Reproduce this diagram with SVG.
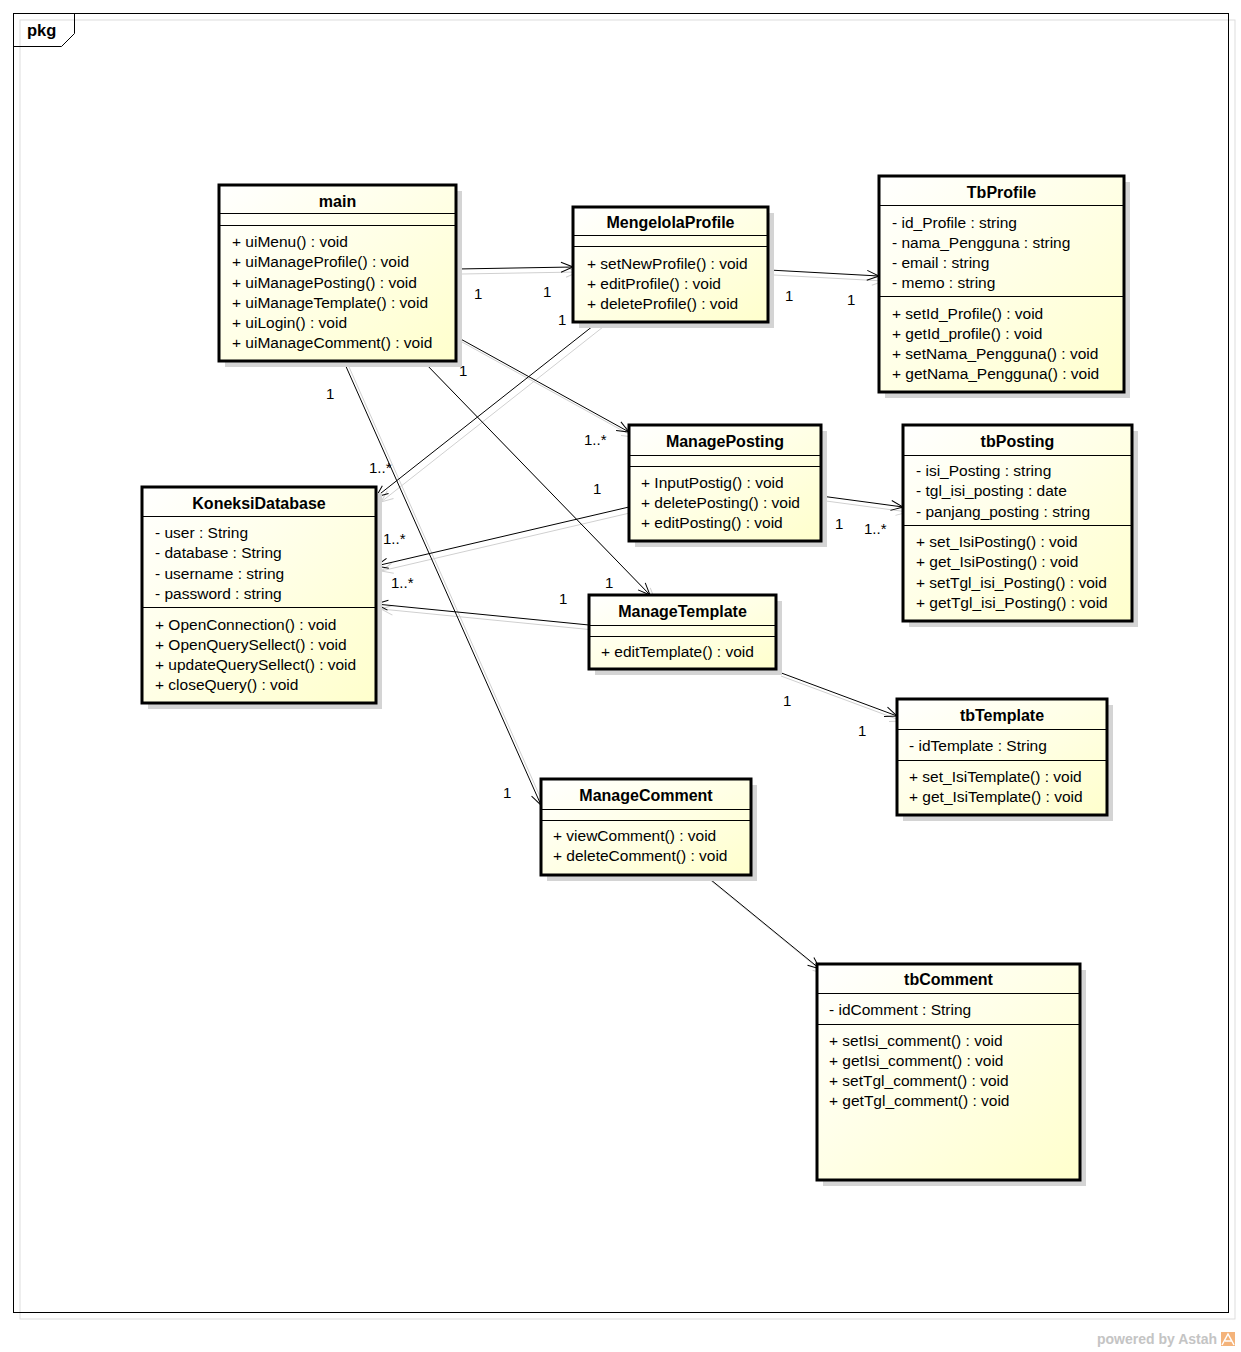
<svg xmlns="http://www.w3.org/2000/svg" width="1241" height="1352" viewBox="0 0 1241 1352">
<defs>
<linearGradient id="g" x1="0" y1="0" x2="1" y2="1">
<stop offset="0" stop-color="#FFFFFF"/>
<stop offset="1" stop-color="#FFFFCC"/>
</linearGradient>
<marker id="arr" markerWidth="14" markerHeight="12" refX="13" refY="6" orient="auto" markerUnits="userSpaceOnUse">
<path d="M1,1 L13,6 L1,11" fill="none" stroke="#000" stroke-width="1"/>
</marker>
<marker id="arrs" markerWidth="14" markerHeight="12" refX="13" refY="6" orient="auto" markerUnits="userSpaceOnUse">
<path d="M1,1 L13,6 L1,11" fill="none" stroke="#D0D0D0" stroke-width="1"/>
</marker>
</defs>
<style>
.box{fill:url(#g);stroke:#000;stroke-width:3}
.shd{fill:#D4D4D4;stroke:none}
.sep{stroke:#000;stroke-width:1}
.t{font-family:"Liberation Sans",Arial,sans-serif;font-size:15.5px;fill:#000}
.b{font-family:"Liberation Sans",Arial,sans-serif;font-size:16px;font-weight:bold;fill:#000;text-anchor:middle}
.ln{fill:none;stroke:#000;stroke-width:1;marker-end:url(#arr)}
.lns{fill:none;stroke:#D0D0D0;stroke-width:1;marker-end:url(#arrs)}
.lbl{font-family:"Liberation Sans",Arial,sans-serif;font-size:15px;fill:#000}
</style>
<rect x="0" y="0" width="1241" height="1352" fill="#FFFFFF"/>
<g id="frame">
<rect x="20" y="20" width="1215" height="1299" fill="none" stroke="#DDDDDD" stroke-width="1"/>
<rect x="13.5" y="13.5" width="1215" height="1299" fill="none" stroke="#000" stroke-width="1"/>
<path d="M13.5,46.5 L61.5,46.5 L74.5,33.5 L74.5,13.5" fill="none" stroke="#000" stroke-width="1"/>
<text x="27" y="36" font-family="Liberation Sans,Arial,sans-serif" font-size="16.5" font-weight="bold">pkg</text>
</g>
<g id="connectors">
<g transform="translate(5,5)">
<line class="lns" x1="457" y1="269" x2="573" y2="267"/>
<line class="lns" x1="769" y1="270" x2="879" y2="276"/>
<line class="lns" x1="598" y1="322" x2="376" y2="497"/>
<line class="lns" x1="457" y1="337" x2="629" y2="432"/>
<line class="lns" x1="821" y1="496" x2="903" y2="507"/>
<line class="lns" x1="629" y1="507" x2="376" y2="566"/>
<line class="lns" x1="424" y1="362" x2="650" y2="595"/>
<line class="lns" x1="589" y1="625" x2="376" y2="604"/>
<line class="lns" x1="776" y1="671" x2="897" y2="716"/>
<line class="lns" x1="344" y1="362" x2="541" y2="805"/>
<line class="lns" x1="705" y1="875" x2="820" y2="969"/>
</g>
<line class="ln" x1="457" y1="269" x2="573" y2="267"/>
<line class="ln" x1="769" y1="270" x2="879" y2="276"/>
<line class="ln" x1="598" y1="322" x2="376" y2="497"/>
<line class="ln" x1="457" y1="337" x2="629" y2="432"/>
<line class="ln" x1="821" y1="496" x2="903" y2="507"/>
<line class="ln" x1="629" y1="507" x2="376" y2="566"/>
<line class="ln" x1="424" y1="362" x2="650" y2="595"/>
<line class="ln" x1="589" y1="625" x2="376" y2="604"/>
<line class="ln" x1="776" y1="671" x2="897" y2="716"/>
<line class="ln" x1="344" y1="362" x2="541" y2="805"/>
<line class="ln" x1="705" y1="875" x2="820" y2="969"/>
<text class="lbl" x="474" y="299">1</text>
<text class="lbl" x="543" y="297">1</text>
<text class="lbl" x="785" y="301">1</text>
<text class="lbl" x="847" y="305">1</text>
<text class="lbl" x="558" y="325">1</text>
<text class="lbl" x="369" y="473">1..*</text>
<text class="lbl" x="459" y="376">1</text>
<text class="lbl" x="584" y="445">1..*</text>
<text class="lbl" x="835" y="529">1</text>
<text class="lbl" x="864" y="534">1..*</text>
<text class="lbl" x="593" y="494">1</text>
<text class="lbl" x="383" y="544">1..*</text>
<text class="lbl" x="605" y="588">1</text>
<text class="lbl" x="559" y="604">1</text>
<text class="lbl" x="391" y="588">1..*</text>
<text class="lbl" x="783" y="706">1</text>
<text class="lbl" x="858" y="736">1</text>
<text class="lbl" x="326" y="399">1</text>
<text class="lbl" x="503" y="798">1</text>
</g>
<g id="main">
<rect class="shd" x="225" y="191" width="237" height="176"/>
<rect class="box" x="219" y="185" width="237" height="176"/>
<text class="b" x="337.5" y="207">main</text>
<line class="sep" x1="219" y1="213.5" x2="456" y2="213.5"/>
<line class="sep" x1="219" y1="225.5" x2="456" y2="225.5"/>
<text class="t" x="232" y="247">+ uiMenu() : void</text>
<text class="t" x="232" y="267">+ uiManageProfile() : void</text>
<text class="t" x="232" y="288">+ uiManagePosting() : void</text>
<text class="t" x="232" y="308">+ uiManageTemplate() : void</text>
<text class="t" x="232" y="328">+ uiLogin() : void</text>
<text class="t" x="232" y="348">+ uiManageComment() : void</text>
</g>
<g id="MengelolaProfile">
<rect class="shd" x="579" y="213" width="195" height="115"/>
<rect class="box" x="573" y="207" width="195" height="115"/>
<text class="b" x="670.5" y="228">MengelolaProfile</text>
<line class="sep" x1="573" y1="235.5" x2="768" y2="235.5"/>
<line class="sep" x1="573" y1="246.5" x2="768" y2="246.5"/>
<text class="t" x="587" y="269">+ setNewProfile() : void</text>
<text class="t" x="587" y="289">+ editProfile() : void</text>
<text class="t" x="587" y="309">+ deleteProfile() : void</text>
</g>
<g id="TbProfile">
<rect class="shd" x="885" y="182" width="245" height="216"/>
<rect class="box" x="879" y="176" width="245" height="216"/>
<text class="b" x="1001.5" y="198">TbProfile</text>
<line class="sep" x1="879" y1="205.5" x2="1124" y2="205.5"/>
<text class="t" x="892" y="228">- id_Profile : string</text>
<text class="t" x="892" y="248">- nama_Pengguna : string</text>
<text class="t" x="892" y="268">- email : string</text>
<text class="t" x="892" y="288">- memo : string</text>
<line class="sep" x1="879" y1="296.5" x2="1124" y2="296.5"/>
<text class="t" x="892" y="319">+ setId_Profile() : void</text>
<text class="t" x="892" y="339">+ getId_profile() : void</text>
<text class="t" x="892" y="359">+ setNama_Pengguna() : void</text>
<text class="t" x="892" y="379">+ getNama_Pengguna() : void</text>
</g>
<g id="KoneksiDatabase">
<rect class="shd" x="148" y="493" width="234" height="216"/>
<rect class="box" x="142" y="487" width="234" height="216"/>
<text class="b" x="259" y="509">KoneksiDatabase</text>
<line class="sep" x1="142" y1="516.5" x2="376" y2="516.5"/>
<text class="t" x="155" y="538">- user : String</text>
<text class="t" x="155" y="558">- database : String</text>
<text class="t" x="155" y="579">- username : string</text>
<text class="t" x="155" y="599">- password : string</text>
<line class="sep" x1="142" y1="607.5" x2="376" y2="607.5"/>
<text class="t" x="155" y="630">+ OpenConnection() : void</text>
<text class="t" x="155" y="650">+ OpenQuerySellect() : void</text>
<text class="t" x="155" y="670">+ updateQuerySellect() : void</text>
<text class="t" x="155" y="690">+ closeQuery() : void</text>
</g>
<g id="ManagePosting">
<rect class="shd" x="635" y="431" width="192" height="116"/>
<rect class="box" x="629" y="425" width="192" height="116"/>
<text class="b" x="725" y="447">ManagePosting</text>
<line class="sep" x1="629" y1="455.5" x2="821" y2="455.5"/>
<line class="sep" x1="629" y1="466.5" x2="821" y2="466.5"/>
<text class="t" x="641" y="488">+ InputPostig() : void</text>
<text class="t" x="641" y="508">+ deletePosting() : void</text>
<text class="t" x="641" y="528">+ editPosting() : void</text>
</g>
<g id="tbPosting">
<rect class="shd" x="909" y="431" width="229" height="196"/>
<rect class="box" x="903" y="425" width="229" height="196"/>
<text class="b" x="1017.5" y="447">tbPosting</text>
<line class="sep" x1="903" y1="455.5" x2="1132" y2="455.5"/>
<text class="t" x="916" y="476">- isi_Posting : string</text>
<text class="t" x="916" y="496">- tgl_isi_posting : date</text>
<text class="t" x="916" y="517">- panjang_posting : string</text>
<line class="sep" x1="903" y1="525.5" x2="1132" y2="525.5"/>
<text class="t" x="916" y="547">+ set_IsiPosting() : void</text>
<text class="t" x="916" y="567">+ get_IsiPosting() : void</text>
<text class="t" x="916" y="588">+ setTgl_isi_Posting() : void</text>
<text class="t" x="916" y="608">+ getTgl_isi_Posting() : void</text>
</g>
<g id="ManageTemplate">
<rect class="shd" x="595" y="601" width="187" height="74"/>
<rect class="box" x="589" y="595" width="187" height="74"/>
<text class="b" x="682.5" y="617">ManageTemplate</text>
<line class="sep" x1="589" y1="625.5" x2="776" y2="625.5"/>
<line class="sep" x1="589" y1="636.5" x2="776" y2="636.5"/>
<text class="t" x="601" y="657">+ editTemplate() : void</text>
</g>
<g id="tbTemplate">
<rect class="shd" x="903" y="705" width="210" height="116"/>
<rect class="box" x="897" y="699" width="210" height="116"/>
<text class="b" x="1002" y="721">tbTemplate</text>
<line class="sep" x1="897" y1="729.5" x2="1107" y2="729.5"/>
<text class="t" x="909" y="751">- idTemplate : String</text>
<line class="sep" x1="897" y1="760.5" x2="1107" y2="760.5"/>
<text class="t" x="909" y="782">+ set_IsiTemplate() : void</text>
<text class="t" x="909" y="802">+ get_IsiTemplate() : void</text>
</g>
<g id="ManageComment">
<rect class="shd" x="547" y="785" width="210" height="96"/>
<rect class="box" x="541" y="779" width="210" height="96"/>
<text class="b" x="646" y="801">ManageComment</text>
<line class="sep" x1="541" y1="809.5" x2="751" y2="809.5"/>
<line class="sep" x1="541" y1="820.5" x2="751" y2="820.5"/>
<text class="t" x="553" y="841">+ viewComment() : void</text>
<text class="t" x="553" y="861">+ deleteComment() : void</text>
</g>
<g id="tbComment">
<rect class="shd" x="823" y="970" width="263" height="216"/>
<rect class="box" x="817" y="964" width="263" height="216"/>
<text class="b" x="948.5" y="985">tbComment</text>
<line class="sep" x1="817" y1="993.5" x2="1080" y2="993.5"/>
<text class="t" x="829" y="1015">- idComment : String</text>
<line class="sep" x1="817" y1="1024.5" x2="1080" y2="1024.5"/>
<text class="t" x="829" y="1046">+ setIsi_comment() : void</text>
<text class="t" x="829" y="1066">+ getIsi_comment() : void</text>
<text class="t" x="829" y="1086">+ setTgl_comment() : void</text>
<text class="t" x="829" y="1106">+ getTgl_comment() : void</text>
</g>
<g id="watermark">
<text x="1097" y="1344" font-family="Liberation Sans,Arial,sans-serif" font-size="14" font-weight="bold" fill="#C4C4C4">powered by Astah</text>
<rect x="1221" y="1332" width="14" height="14" fill="#F4B37A"/>
<path d="M1222,1345 L1228,1334 L1234,1345 M1225,1341 L1232,1341" fill="none" stroke="#FFFFFF" stroke-width="1.5"/>
</g>
</svg>
